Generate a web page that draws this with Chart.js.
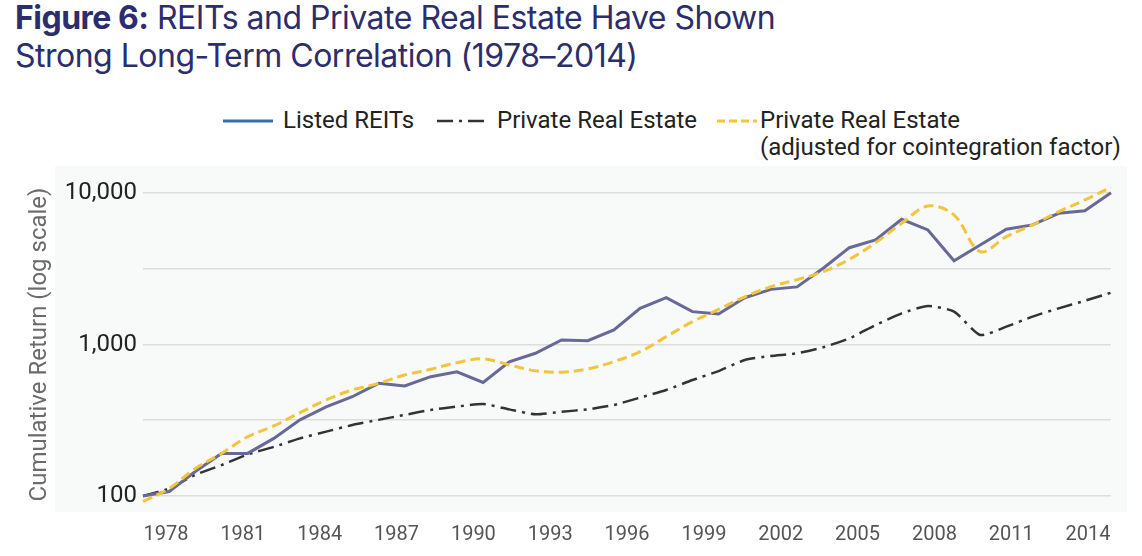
<!DOCTYPE html>
<html><head><meta charset="utf-8">
<script src="https://cdn.jsdelivr.net/npm/chart.js@4.4.1/dist/chart.umd.min.js"></script>
<style>
html,body{margin:0;padding:0;background:#fff;width:1142px;height:556px;overflow:hidden;}
#panel{position:absolute;left:55px;top:166px;width:1072px;height:346px;background:#f8f9f9;}
#title{position:absolute;left:15px;top:-1px;font-family:Inter,"Noto Sans",sans-serif;font-size:32px;line-height:38px;color:#2c2d6c;letter-spacing:-0.5px;white-space:nowrap;}
#title b{font-weight:700;}
.lt{position:absolute;font-family:Roboto,sans-serif;font-size:24px;color:#222;line-height:27px;white-space:nowrap;}
.ls{position:absolute;}
#wrap{position:absolute;left:0;top:0;width:1142px;height:556px;}
</style></head>
<body>
<div id="panel"></div>
<div id="title"><b>Figure 6:</b> REITs and Private Real Estate Have Shown<br>Strong Long-Term Correlation (1978–2014)</div>
<svg class="ls" style="left:223px;top:116px" width="50" height="10"><line x1="0" y1="5" x2="50" y2="5" stroke="#3b6ea8" stroke-width="3"/></svg>
<div class="lt" style="left:283px;top:107px">Listed REITs</div>
<svg class="ls" style="left:437px;top:116px" width="50" height="10"><line x1="0" y1="5" x2="50" y2="5" stroke="#333" stroke-width="2.5" stroke-dasharray="16,6,3,6"/></svg>
<div class="lt" style="left:497px;top:107px">Private Real Estate</div>
<svg class="ls" style="left:717px;top:116px" width="40" height="10"><line x1="0" y1="5" x2="40" y2="5" stroke="#f2c53d" stroke-width="3" stroke-dasharray="8,4"/></svg>
<div class="lt" style="left:760px;top:107px">Private Real Estate<br>(adjusted for cointegration factor)</div>
<div id="wrap"><canvas id="c"></canvas></div>
<script>
const years = [1977,1978,1979,1980,1981,1982,1983,1984,1985,1986,1987,1988,1989,1990,1991,1992,1993,1994,1995,1996,1997,1998,1999,2000,2001,2002,2003,2004,2005,2006,2007,2008,2009,2010,2011,2012,2013,2014];
const listedREITs = [100,107,145,191,191,240,318,388,452,554,532,613,661,562,769,875,1071,1059,1247,1733,2036,1648,1590,2036,2312,2400,3184,4355,4897,6701,5700,3574,4539,5763,6158,7345,7640,10040];
const privateRE = [100,112,138,160,188,211,240,266,294,318,343,370,389,405,373,346,360,373,399,446,501,583,668,790,840,875,958,1098,1344,1606,1795,1648,1156,1311,1528,1733,1944,2198];
const privateREAdj = [92,112,152,191,246,290,355,431,501,554,629,686,759,804,733,671,656,689,771,896,1127,1415,1707,2066,2408,2680,3030,3650,4697,6313,8204,7159,4100,5155,6158,7530,8995,10920];
const xTickLabels = ['1978','1981','1984','1987','1990','1993','1996','1999','2002','2005','2008','2011','2014'];
const yTickValues = [100,316.23,1000,3162.3,10000];
const yLabelled = [100,1000,10000];

const ctx = document.getElementById('c');
new Chart(ctx, {
  type: 'line',
  data: {
    datasets: [
      {label:'Private Real Estate (adjusted for cointegration factor)', data: years.map((y,i)=>({x:y,y:privateREAdj[i]})),
       borderColor:'#f2c53d', borderWidth:3, borderDash:[10,5], tension:0.35, pointRadius:0, clip:false, order:0},
      {label:'Listed REITs', data: years.map((y,i)=>({x:y,y:listedREITs[i]})),
       borderColor:'#676996', borderWidth:3, tension:0, pointRadius:0, clip:false, order:1},
      {label:'Private Real Estate', data: years.map((y,i)=>({x:y,y:privateRE[i]})),
       borderColor:'#333333', borderWidth:2.5, borderDash:[16,6,3,6], tension:0.2, pointRadius:0, clip:false, order:2}
    ]
  },
  options: {
    responsive:true, maintainAspectRatio:false, animation:false, devicePixelRatio:1,
    layout:{padding:{left:0,right:31,top:193,bottom:0}},
    plugins:{legend:{display:false}, tooltip:{enabled:false}},
    scales:{
      x:{type:'linear', min:years[0], max:years[years.length-1],
        grid:{display:false}, border:{display:false},
        afterFit:(s)=>{s.height=60;},
        afterBuildTicks:(s)=>{ s.ticks = xTickLabels.map((t,k)=>({value: years[0] + 0.88 + k*2.937})); },
        ticks:{autoSkip:false, maxRotation:0, padding:19, color:'#555', font:{family:'Roboto', size:20},
          callback:(v,i)=>xTickLabels[i]}
      },
      y:{type:'logarithmic', min:100, max:10000,
        grid:{color:'#dddddd', lineWidth:1.5, drawTicks:false}, border:{display:false},
        afterFit:(s)=>{s.width=143;},
        afterBuildTicks:(s)=>{ s.ticks = yTickValues.map(v=>({value:v})); },
        ticks:{padding:6, color:'#222', font:{family:'Roboto', size:24},
          callback:(v)=> yLabelled.includes(v) ? v.toLocaleString('en-US') : ''},
        title:{display:true, text:'Cumulative Return (log scale)', color:'#6b6b6b', font:{family:'Roboto', size:24}, padding:{top:26,bottom:0}}
      }
    }
  }
});
</script>
</body></html>
